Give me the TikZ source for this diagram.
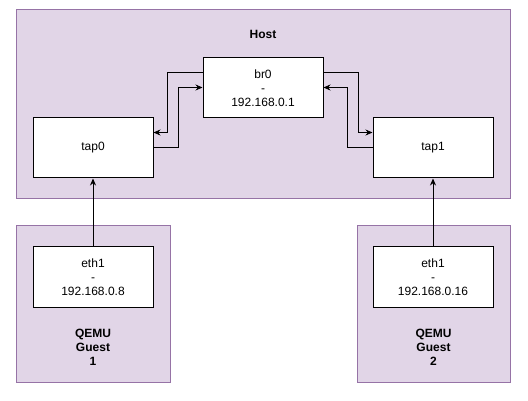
\documentclass[tikz,border=0pt]{standalone}
\usepackage{fontspec}
\setmainfont{Liberation Sans}
\usetikzlibrary{arrows.meta}
\definecolor{grpfill}{HTML}{E1D5E7}
\definecolor{grpdraw}{HTML}{9673A6}
\begin{document}
\begin{tikzpicture}[x=1pt,y=-1pt,
  group/.style={draw=grpdraw,fill=grpfill,line width=1pt,inner sep=0pt},
  box/.style={draw=black,fill=white,line width=1pt,minimum width=120pt,minimum height=60pt,inner sep=0pt,align=center,font=\fontsize{12}{14}\selectfont},
  title/.style={font=\fontsize{12}{14}\selectfont\bfseries,align=center},
  arr/.style={line width=1pt,-{Stealth[length=7pt,width=6pt]}},
  ln/.style={line width=1pt}]
\useasboundingbox (0,0) rectangle (528,401);
\node[group,minimum width=494pt,minimum height=189pt] (host) at (263,104.5) {};
\node[group,minimum width=154pt,minimum height=156pt] (guest1) at (93,304) {};
\node[group,minimum width=153pt,minimum height=156pt] (guest2) at (433.5,304) {};
\node[title] (hostlbl) at (263,34) {Host};
\node[title] (g1lbl) at (93,347) {QEMU\\Guest\\1};
\node[title] (g2lbl) at (433.5,347) {QEMU\\Guest\\2};
\node[box] (br0) at (263,88) {br0\\-\\192.168.0.1};
\node[box] (tap0) at (93,148) {tap0};
\node[box] (tap1) at (433,148) {tap1};
\node[box] (eth1a) at (93,277) {eth1\\-\\192.168.0.8};
\node[box] (eth1b) at (433,277) {eth1\\-\\192.168.0.16};
\draw[arr] ([yshift=-15pt]br0.north west) -- ++(-35,0) |- ([yshift=-15pt]tap0.north east);
\draw[arr] ([yshift=-30pt]tap0.north east) -- ++(25,0) |- ([yshift=-30pt]br0.north west);
\draw[arr] ([yshift=-15pt]br0.north east) -- ++(35,0) |- ([yshift=-15pt]tap1.north west);
\draw[arr] ([yshift=-30pt]tap1.north west) -- ++(-25,0) |- ([yshift=-30pt]br0.north east);
\draw[arr] (eth1a.north) -- (tap0.south);
\draw[arr] (eth1b.north) -- (tap1.south);
\end{tikzpicture}
\end{document}
